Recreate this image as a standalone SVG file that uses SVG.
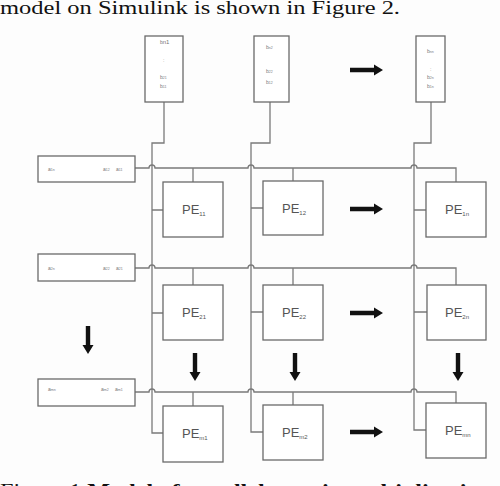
<svg xmlns="http://www.w3.org/2000/svg" width="500" height="486" viewBox="0 0 500 486">
<style>
.bg{fill:#fdfdfd}
.box{fill:#ffffff;stroke:#6a6a6a;stroke-width:1.3}
.wire{fill:none;stroke:#7a7a7a;stroke-width:1.3}
.pe{font-family:"Liberation Sans",Arial,sans-serif;font-size:13px;fill:#555}
.sub{font-size:6px}
.tiny{font-family:"Liberation Sans",Arial,sans-serif;font-size:5px;fill:#777}
.cap{font-family:"Liberation Serif","Times New Roman",serif;font-size:18px;fill:#111}
.arrow{fill:#111}
</style>
<defs>
<path id="ar" d="M0,-2.2 H24 V-5.5 L33,0 L24,5.5 V2.2 H0 Z"/>
<path id="ad" d="M-2.2,0 V19 H-5.5 L0,28 L5.5,19 H2.2 V0 Z"/>
</defs>
<rect class="bg" x="0" y="0" width="500" height="486"/>
<text class="cap" x="0" y="14" textLength="400" lengthAdjust="spacingAndGlyphs">model on Simulink is shown in Figure 2.</text>

<g id="connectors">
<path class="wire" d="M164,102 V143 H152 V433 H163"/>
<path class="wire" d="M270,102 V143 H251 V432 H263"/>
<path class="wire" d="M431,102 V143 H414 V430 H426"/>
<path class="wire" d="M135,168 H149 a3,3 0 0 1 6,0 H248 a3,3 0 0 1 6,0 H411 a3,3 0 0 1 6,0 H456 V182"/>
<path class="wire" d="M135,268 H149 a3,3 0 0 1 6,0 H248 a3,3 0 0 1 6,0 H411 a3,3 0 0 1 6,0 H456 V285"/>
<path class="wire" d="M135,392 H149 a3,3 0 0 1 6,0 H248 a3,3 0 0 1 6,0 H411 a3,3 0 0 1 6,0 H456 V403"/>
<path class="wire" d="M193,168 V182 M293,168 V181 M193,268 V285 M293,268 V285 M193,392 V406 M293,392 V405"/>
<path class="wire" d="M152,210 H163 M251,208 H263 M414,210 H426 M152,313 H163 M251,312 H263 M414,312 H427"/>
</g>

<g id="arrows">
<use href="#ar" class="arrow" x="350" y="70"/>
<use href="#ar" class="arrow" x="350" y="209"/>
<use href="#ar" class="arrow" x="350" y="313"/>
<use href="#ar" class="arrow" x="350" y="432"/>
<use href="#ad" class="arrow" x="88" y="326"/>
<use href="#ad" class="arrow" x="195" y="353"/>
<use href="#ad" class="arrow" x="295" y="353"/>
<use href="#ad" class="arrow" x="458" y="353"/>
</g>

<g id="b1">
<rect class="box" x="145" y="36" width="38" height="66"/>
<text class="tiny" x="160" y="44">b<tspan class="sub" font-size="3.5">n1</tspan></text>
<text class="tiny" x="163" y="62">:</text>
<text class="tiny" x="160" y="79">b<tspan font-size="3.5">21</tspan></text>
<text class="tiny" x="160" y="88">b<tspan font-size="3.5">11</tspan></text>
</g>
<g id="b2">
<rect class="box" x="254" y="36" width="35" height="66"/>
<text class="tiny" x="266" y="49">b<tspan font-size="3.5">n2</tspan></text>
<text class="tiny" x="266" y="73">b<tspan font-size="3.5">22</tspan></text>
<text class="tiny" x="266" y="84">b<tspan font-size="3.5">12</tspan></text>
</g>
<g id="b3">
<rect class="box" x="416" y="36" width="29" height="66"/>
<text class="tiny" x="427" y="53">b<tspan font-size="3.5">nn</tspan></text>
<text class="tiny" x="430" y="71">:</text>
<text class="tiny" x="427" y="79">b<tspan font-size="3.5">2n</tspan></text>
<text class="tiny" x="427" y="88">b<tspan font-size="3.5">1n</tspan></text>
</g>

<g id="a1">
<rect class="box" x="38" y="156" width="97" height="26"/>
<text class="tiny" x="48" y="171">a<tspan font-size="3.5">1n</tspan></text>
<text class="tiny" x="103" y="171">a<tspan font-size="3.5">12</tspan></text>
<text class="tiny" x="116" y="171">a<tspan font-size="3.5">11</tspan></text>
</g>
<g id="a2">
<rect class="box" x="38" y="254" width="97" height="27"/>
<text class="tiny" x="48" y="270">a<tspan font-size="3.5">2n</tspan></text>
<text class="tiny" x="103" y="270">a<tspan font-size="3.5">22</tspan></text>
<text class="tiny" x="116" y="270">a<tspan font-size="3.5">21</tspan></text>
</g>
<g id="a3">
<rect class="box" x="38" y="379" width="97" height="27"/>
<text class="tiny" x="48" y="391">a<tspan font-size="3.5">mn</tspan></text>
<text class="tiny" x="101" y="391">a<tspan font-size="3.5">m2</tspan></text>
<text class="tiny" x="115" y="391">a<tspan font-size="3.5">m1</tspan></text>
</g>

<g id="pe11"><rect class="box" x="163" y="182" width="60" height="55"/><text class="pe" x="182" y="214">PE<tspan class="sub" dy="2">11</tspan></text></g>
<g id="pe12"><rect class="box" x="263" y="181" width="60" height="54"/><text class="pe" x="282" y="213">PE<tspan class="sub" dy="2">12</tspan></text></g>
<g id="pe1n"><rect class="box" x="426" y="182" width="60" height="55"/><text class="pe" x="445" y="214">PE<tspan class="sub" dy="2">1n</tspan></text></g>
<g id="pe21"><rect class="box" x="163" y="285" width="60" height="55"/><text class="pe" x="182" y="317">PE<tspan class="sub" dy="2">21</tspan></text></g>
<g id="pe22"><rect class="box" x="263" y="285" width="60" height="55"/><text class="pe" x="282" y="317">PE<tspan class="sub" dy="2">22</tspan></text></g>
<g id="pe2n"><rect class="box" x="427" y="285" width="59" height="55"/><text class="pe" x="445" y="317">PE<tspan class="sub" dy="2">2n</tspan></text></g>
<g id="pem1"><rect class="box" x="163" y="406" width="60" height="56"/><text class="pe" x="182" y="438">PE<tspan class="sub" dy="2">m1</tspan></text></g>
<g id="pem2"><rect class="box" x="263" y="405" width="60" height="55"/><text class="pe" x="282" y="437">PE<tspan class="sub" dy="2">m2</tspan></text></g>
<g id="pemn"><rect class="box" x="426" y="403" width="60" height="55"/><text class="pe" x="445" y="435">PE<tspan class="sub" dy="2">mn</tspan></text></g>

<text class="cap" x="0" y="497" textLength="492" lengthAdjust="spacingAndGlyphs">Figure 1 <tspan font-weight="bold">Model of parallel matrix multiplication</tspan></text>
</svg>
